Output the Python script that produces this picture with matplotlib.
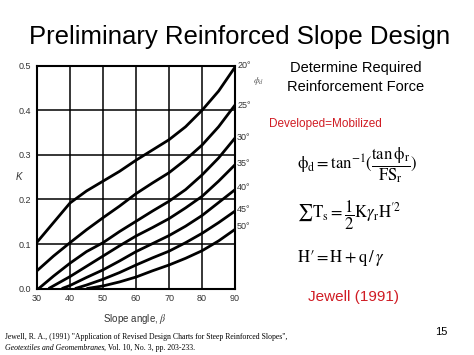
import matplotlib
matplotlib.use("Agg")
import matplotlib.pyplot as plt

plt.rcParams['font.family'] = ['Liberation Sans', 'DejaVu Sans']
plt.rcParams['mathtext.fontset'] = 'stix'

# Slope angle (deg) and K, one curve per phi_d
phi_labels = ['20°', '25°', '30°', '35°', '40°', '45°', '50°']
label_k = [0.5, 0.41, 0.34, 0.28, 0.226, 0.178, 0.14]

beta_20 = [30, 35, 40, 45, 50, 55, 60, 65, 70, 75, 80, 85, 90]
k_20 = [0.104, 0.148, 0.192, 0.219, 0.241, 0.263, 0.288, 0.311, 0.334, 0.363, 0.400, 0.443, 0.497]

beta_25 = [30, 35, 40, 45, 50, 55, 60, 65, 70, 75, 80, 85, 90]
k_25 = [0.040, 0.073, 0.103, 0.132, 0.159, 0.185, 0.213, 0.237, 0.260, 0.289, 0.322, 0.363, 0.412]

beta_30 = [30.5, 35, 40, 45, 50, 55, 60, 65, 70, 75, 80, 85, 90]
k_30 = [0.0, 0.028, 0.057, 0.083, 0.103, 0.128, 0.151, 0.174, 0.196, 0.222, 0.255, 0.293, 0.338]

beta_35 = [33.5, 40, 45, 50, 55, 60, 65, 70, 75, 80, 85, 90]
k_35 = [0.0, 0.027, 0.050, 0.073, 0.096, 0.118, 0.137, 0.157, 0.181, 0.207, 0.241, 0.278]

beta_40 = [37.5, 40, 45, 50, 55, 60, 65, 70, 75, 80, 85, 90]
k_40 = [0.0, 0.007, 0.025, 0.042, 0.062, 0.083, 0.101, 0.119, 0.140, 0.164, 0.193, 0.222]

beta_45 = [41.5, 45, 50, 55, 60, 65, 70, 75, 80, 85, 90]
k_45 = [0.0, 0.008, 0.021, 0.036, 0.053, 0.069, 0.084, 0.103, 0.124, 0.148, 0.174]

beta_50 = [45, 50, 55, 60, 65, 70, 75, 80, 85, 90]
k_50 = [0.0, 0.006, 0.015, 0.026, 0.040, 0.053, 0.068, 0.085, 0.107, 0.133]

curves = [(beta_20, k_20), (beta_25, k_25), (beta_30, k_30), (beta_35, k_35),
          (beta_40, k_40), (beta_45, k_45), (beta_50, k_50)]

x_ticks = [30, 40, 50, 60, 70, 80, 90]
y_ticks = [0.0, 0.1, 0.2, 0.3, 0.4, 0.5]

fig = plt.figure(figsize=(4.74, 3.55), dpi=100)
ax = fig.add_axes([0.078, 0.187, 0.418, 0.628])

for xs, ks in curves:
    ax.plot(xs, ks, color='black', lw=2.0, solid_capstyle='butt')

ax.set_xlim(30, 90)
ax.set_ylim(0, 0.5)
ax.set_xticks(x_ticks)
ax.set_yticks(y_ticks)
ax.set_xticklabels([str(v) for v in x_ticks])
ax.set_yticklabels([f'{v:.1f}' for v in y_ticks])
ax.grid(True, color='black', lw=1.1)
ax.tick_params(length=0, labelsize=6.5, labelcolor='#333333', pad=4)
for s in ax.spines.values():
    s.set_linewidth(1.5)

for lab, k in zip(phi_labels, label_k):
    ax.text(1.01, k, lab, transform=ax.get_yaxis_transform(), fontsize=6.5,
            color='#333333', va='center', ha='left')
ax.text(1.09, 0.465, r'$\phi_d$', transform=ax.get_yaxis_transform(), fontsize=6.5,
        color='#555555', va='center', ha='left')

ax.text(-0.09, 0.5, 'K', transform=ax.transAxes, fontsize=7, style='italic',
        color='#333333', va='center', ha='center')
fig.text(0.285, 0.100, r'Slope angle, $\beta$', fontsize=7, color='#333333',
         ha='center', va='center')

fig.text(0.506, 0.897, 'Preliminary Reinforced Slope Design', fontsize=18.5,
         ha='center', va='center')

fig.text(0.75, 0.808, 'Determine Required', fontsize=10.5, ha='center', va='center')
fig.text(0.75, 0.755, 'Reinforcement Force', fontsize=10.5, ha='center', va='center')
fig.text(0.567, 0.651, 'Developed=Mobilized', fontsize=8.5, color='#d01c24',
         ha='left', va='center')

fig.text(0.627, 0.535,
         r'$\mathrm{\phi}_{\rm d} = {\rm tan}^{-1}(\dfrac{{\rm tan}\,\mathrm{\phi}_{\rm r}}{{\rm FS}_{\rm r}})$',
         fontsize=12, ha='left', va='center')
fig.text(0.627, 0.393,
         r'$\sum{\rm T}_{\rm s} = \dfrac{1}{2}{\rm K}\gamma_{\rm r}{\rm H}^{\prime 2}$',
         fontsize=12, ha='left', va='center')
fig.text(0.627, 0.273, r'${\rm H}\prime = {\rm H} + {\rm q}\,/\,\gamma$',
         fontsize=12, ha='left', va='center')
fig.text(0.745, 0.163, 'Jewell (1991)', fontsize=11, color='#d01c24',
         ha='center', va='center')

serif = ['Liberation Serif', 'DejaVu Serif']
fig.text(0.93, 0.065, '15', fontsize=8, ha='center', va='center')
fig.text(0.01, 0.052, 'Jewell, R. A., (1991) "Application of Revised Design Charts for Steep Reinforced Slopes",',
         fontsize=5.6, family=serif, ha='left', va='center')
t = fig.text(0.01, 0.020, 'Geotextiles and Geomembranes', fontsize=5.6, family=serif,
             style='italic', ha='left', va='center')
fig.canvas.draw()
bb = t.get_window_extent().transformed(fig.transFigure.inverted())
fig.text(bb.x1, 0.020, ', Vol. 10, No. 3, pp. 203-233.', fontsize=5.6, family=serif,
         ha='left', va='center')

fig.savefig('out.png', dpi=100)
